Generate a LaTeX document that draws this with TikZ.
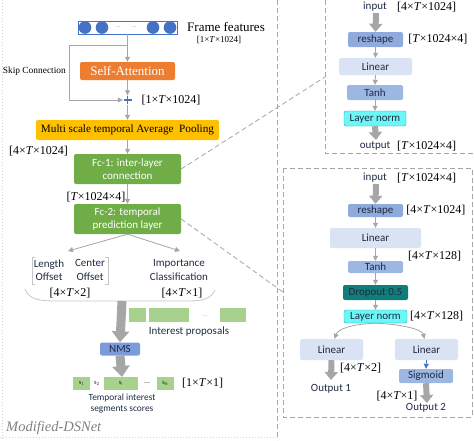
\documentclass[tikz,border=0pt]{standalone}
\usepackage{fontspec}
\setmainfont{Liberation Serif}
\setsansfont{Carlito}
\usepackage{tikz}
\usepackage{xcolor}
\usetikzlibrary{calc,shapes,positioning,arrows.meta}
\definecolor{boxorange}{HTML}{ED7D31}
\definecolor{boxgold}{HTML}{FFC000}
\definecolor{boxgreen}{HTML}{70AD47}
\definecolor{propgreen}{HTML}{A9D18E}
\definecolor{featblue}{HTML}{4472C4}
\definecolor{nmsblue}{HTML}{7B9BDB}
\definecolor{midblue}{HTML}{8FAADC}
\definecolor{softblue}{HTML}{9DB7E3}
\definecolor{paleblue}{HTML}{DAE3F3}
\definecolor{normcyan}{HTML}{6CF7F7}
\definecolor{dropteal}{HTML}{0E7F78}
\definecolor{linegray}{HTML}{A6A6A6}
\definecolor{darktext}{HTML}{1F2A44}
\newcommand{\tdim}{\textit{T}}
\newcommand{\fsz}[2]{\fontsize{#1}{#2}\selectfont}

\begin{document}
\begin{tikzpicture}[x=1pt, y=-1pt,
    blk/.style={rounded corners=2pt, inner sep=0pt, align=center},
    sans/.style={font=\fsz{11}{13.5}\sffamily, text=darktext},
    dimlbl/.style={font=\fsz{12}{14}, inner sep=0pt},
    thinarrow/.style={draw=linegray, line width=0.8pt, -{Triangle[width=5pt,length=5pt]}},
    fatarrow/.style={draw=linegray, line width=9pt, -{Triangle[width=17pt,length=11pt]}},
    fatarrowsm/.style={draw=linegray, line width=6pt, -{Triangle[width=13pt,length=8pt]}},
    zoomline/.style={draw=linegray, line width=0.8pt, dash pattern=on 5pt off 3pt},
    seg/.style={inner sep=0pt, minimum height=13pt, font=\fsz{6.5}{7}\sffamily, text=darktext}
]
\useasboundingbox (0,0) rectangle (474,440);

% panel frames
\draw[gray!35, dotted, line width=1pt] (2,0) -- (2,440);
\draw[gray!35, dotted, line width=1pt] (0,437) -- (277,437);
\draw[zoomline] (277,0) -- (277,440);
\draw[zoomline] (325,0) -- (325,153) -- (474,153);
\draw[zoomline] (283,168) rectangle (472,417);

% frame features
\node[draw=featblue, line width=0.8pt, minimum width=99pt, minimum height=13pt, inner sep=0pt] (bar) at (127.5,27.5) {};
\foreach \cx in {85,102,153,170}
    \fill[featblue] (\cx,27.5) circle (6.3pt);
\foreach \cx in {118,134}
    \node[font=\fsz{6}{7}, text=gray] at (\cx,27) {...};
\node[anchor=west, font=\fsz{13}{15}, inner sep=0pt] (ffname) at (187,27) {Frame features};
\node[font=\fsz{9}{11}, inner sep=0pt] (ffdim) at (219,40) {[1×\tdim×1024]};

% self-attention and skip connection
\node[blk, fill=boxorange, minimum width=95pt, minimum height=18pt, font=\fsz{13}{15}, text=white] (sa) at (127.5,71) {Self-Attention};
\node[inner sep=0pt, minimum size=9pt] (plus) at (127.5,100) {};
\node[dimlbl] (plusdim) at (171,100) {[1×\tdim×1024]};
\coordinate (skipstart) at (127.5,45);
\draw[thinarrow] (bar.south) -- (sa.north);
\draw[thinarrow] (skipstart) -- (69,45) |- (plus.west);
\node[anchor=east, font=\fsz{9.4}{11}, inner sep=0pt] (skiplbl) at (66,71) {Skip Connection};
\draw[thinarrow] (sa.south) -- (plus.north);

% pooling and fc layers
\node[blk, fill=boxgold, minimum width=183pt, minimum height=20pt, font=\fsz{11.2}{13}] (pool) at (127.5,130) {Multi scale temporal Average\ \ Pooling};
\draw[thinarrow] (plus.south) -- (pool.north);
\draw[featblue, line width=1.2pt] ([xshift=-4pt]plus.center) -- ([xshift=4pt]plus.center);
\draw[featblue, line width=1.2pt] ([yshift=-4pt]plus.center) -- ([yshift=4pt]plus.center);
\node[dimlbl] (pooldim) at (38.5,151) {[4×\tdim×1024]};
\node[blk, fill=boxgreen, minimum width=107pt, minimum height=30pt, sans, text=white] (fc1) at (127.5,169) {Fc-1: inter-layer\\connection};
\draw[thinarrow] (pool.south) -- (fc1.north);
\node[dimlbl] (fc1dim) at (96,197) {[\tdim×1024×4]};
\node[blk, fill=boxgreen, minimum width=107pt, minimum height=30pt, sans, text=white] (fc2) at (127.5,219) {Fc-2: temporal\\prediction layer};
\draw[thinarrow] (fc1.south) -- (fc2.north);

% prediction heads
\coordinate (lenpt) at (68,251);
\coordinate (imppt) at (180,251);
\draw[thinarrow] (fc2.south) -- (lenpt);
\draw[thinarrow] (fc2.south) -- (imppt);
\node[sans, align=center, inner sep=0pt] (lenoff) at (49,270) {Length\\Offset};
\node[sans, align=center, inner sep=0pt] (cenoff) at (90,270) {Center\\Offset};
\node[sans, align=center, inner sep=0pt] (impcls) at (179,270) {Importance\\Classification};
\draw[gray!45, line width=0.6pt] (35,257) -- (32,257) -- (32,284) -- (35,284);
\draw[gray!45, line width=0.6pt] (105,257) -- (108,257) -- (108,284) -- (105,284);
\node[dimlbl] (offdim) at (70,293) {[4×\tdim×2]};
\node[dimlbl] (impdim) at (182,293) {[4×\tdim×1]};
\draw[gray!45, line width=0.8pt] (25,289) .. controls (29,300) and (40,301) .. (58,301) -- (188,301) .. controls (205,301) and (211,298) .. (215,290);

% proposals and NMS
\foreach \xa/\xb in {129/146, 149/189, 220/246}
    \fill[propgreen] (\xa,308) rectangle (\xb,322);
\node[font=\fsz{6}{7}, text=gray] at (205,316) {...};
\node[sans, inner sep=0pt] (proplbl) at (189,332) {Interest proposals};
\node[blk, fill=nmsblue, minimum width=40pt, minimum height=13pt, sans] (nms) at (120,349) {NMS};
\draw[fatarrow] (122,301) -- (nms.north);
\coordinate (scoretop) at (122,377);
\draw[fatarrow] (nms.south) -- (scoretop);

% segment scores
\node[seg, fill=propgreen, minimum width=17pt] (sc1) at (81.5,383.5) {s\textsubscript{1}};
\node[seg, fill=white, minimum width=13pt, right=0pt of sc1] (sc2) {s\textsubscript{2}};
\node[seg, fill=propgreen, minimum width=34pt, right=0pt of sc2] (sci) {s\textsubscript{i}};
\node[seg, fill=white, minimum width=18pt, right=0pt of sci, font=\fsz{8}{9}] (scdots) {...};
\node[seg, fill=propgreen, minimum width=17pt, right=0pt of scdots] (scn) {s\textsubscript{N}};
\node[dimlbl, anchor=west] (scdim) at (182,383) {[1×\tdim×1]};
\node[align=center, font=\fsz{9.4}{11}\sffamily, text=darktext, inner sep=0pt] (sclbl) at (122,403.5) {Temporal interest\\segments scores};
\node[anchor=west, font=\fsz{14.5}{16}\itshape, text=gray, inner sep=0pt] (title) at (6,428) {Modified-DSNet};

% zoom lines
\coordinate (topzoom) at (325,77);
\coordinate (botzoom) at (283,292);
\draw[zoomline] (fc1.east) -- (topzoom);
\draw[zoomline] (fc2.east) -- (botzoom);

% Fc-1 detail
\node[sans, inner sep=0pt] (in1) at (375,7) {input};
\node[dimlbl, anchor=west] (in1dim) at (397,7) {[4×\tdim×1024]};
\node[blk, fill=midblue, minimum width=55pt, minimum height=15pt, sans] (rs1) at (375.5,39.5) {reshape};
\node[dimlbl, anchor=west, right=5pt of rs1] (rs1dim) {[\tdim×1024×4]};
\draw[fatarrowsm] (376,13) -- (rs1.north);
\node[blk, fill=paleblue, minimum width=73pt, minimum height=17pt, sans] (lin1) at (375.5,66.5) {Linear};
\node[blk, fill=softblue, minimum width=56pt, minimum height=15pt, sans] (tanh1) at (375,92.5) {Tanh};
\node[blk, fill=normcyan, draw=cyan!70!teal, line width=0.4pt, minimum width=62pt, minimum height=15pt, sans] (ln1) at (375,118.5) {Layer norm};
\draw[thinarrow] (rs1.south) -- (lin1.north);
\draw[thinarrow] (lin1.south) -- (tanh1.north);
\draw[thinarrow] (tanh1.south) -- (ln1.north);
\node[sans, inner sep=0pt] (out1) at (375,146) {output};
\draw[fatarrowsm] (ln1.south) -- (376,140);
\node[dimlbl, anchor=west] (out1dim) at (397,146) {[\tdim×1024×4]};

% Fc-2 detail
\node[sans, inner sep=0pt] (in2) at (375,178) {input};
\node[dimlbl, anchor=west] (in2dim) at (397,178) {[\tdim×1024×4]};
\node[blk, fill=midblue, minimum width=55pt, minimum height=13pt, sans] (rs2) at (375.5,210.5) {reshape};
\node[dimlbl, anchor=west, right=3pt of rs2] (rs2dim) {[4×\tdim×1024]};
\draw[fatarrowsm] (376,184) -- (rs2.north);
\node[blk, fill=paleblue, minimum width=91pt, minimum height=20pt, sans] (lin2) at (375.5,238) {Linear};
\node[dimlbl, anchor=west] (lin2dim) at (408,256) {[4×\tdim×128]};
\node[blk, fill=softblue, minimum width=55pt, minimum height=12pt, sans] (tanh2) at (375.5,267) {Tanh};
\node[blk, fill=dropteal, minimum width=65pt, minimum height=15pt, sans] (drop) at (375.5,292.5) {Dropout 0.5};
\node[blk, fill=normcyan, draw=cyan!70!teal, line width=0.4pt, minimum width=63pt, minimum height=13pt, sans] (ln2) at (375.5,316.5) {Layer norm};
\node[dimlbl, anchor=west] (ln2dim) at (410,316) {[4×\tdim×128]};
\draw[thinarrow] (rs2.south) -- (lin2.north);
\draw[thinarrow] (lin2.south) -- (tanh2.north);
\draw[thinarrow] (tanh2.south) -- (drop.north);
\draw[thinarrow] (drop.south) -- (ln2.north);

% output heads
\node[blk, fill=paleblue, minimum width=63pt, minimum height=21pt, sans] (linL) at (331.5,349.5) {Linear};
\node[blk, fill=paleblue, minimum width=63pt, minimum height=21pt, sans] (linR) at (426.5,349.5) {Linear};
\draw[thinarrow] (ln2.south) .. controls (352,324) and (338,329) .. ([xshift=3pt]linL.north);
\draw[thinarrow] (ln2.south) .. controls (399,324) and (422,329) .. ([xshift=-2pt]linR.north);
\node[sans, inner sep=0pt] (outa) at (331,389) {Output 1};
\draw[fatarrowsm] (linL.south) -- (331,380);
\node[dimlbl, anchor=west] (outadim) at (340,368) {[4×\tdim×2]};
\node[blk, fill=softblue, minimum width=54pt, minimum height=14pt, sans] (sig) at (426,376) {Sigmoid};
\draw[draw=featblue, line width=0.8pt, -{Triangle[width=5pt,length=5pt]}] (linR.south) -- (sig.north);
\node[sans, inner sep=0pt] (outb) at (426,408) {Output 2};
\draw[fatarrowsm] (sig.south) -- (427,403);
\node[dimlbl] (outbdim) at (397,396) {[4×\tdim×1]};
\end{tikzpicture}
\end{document}
